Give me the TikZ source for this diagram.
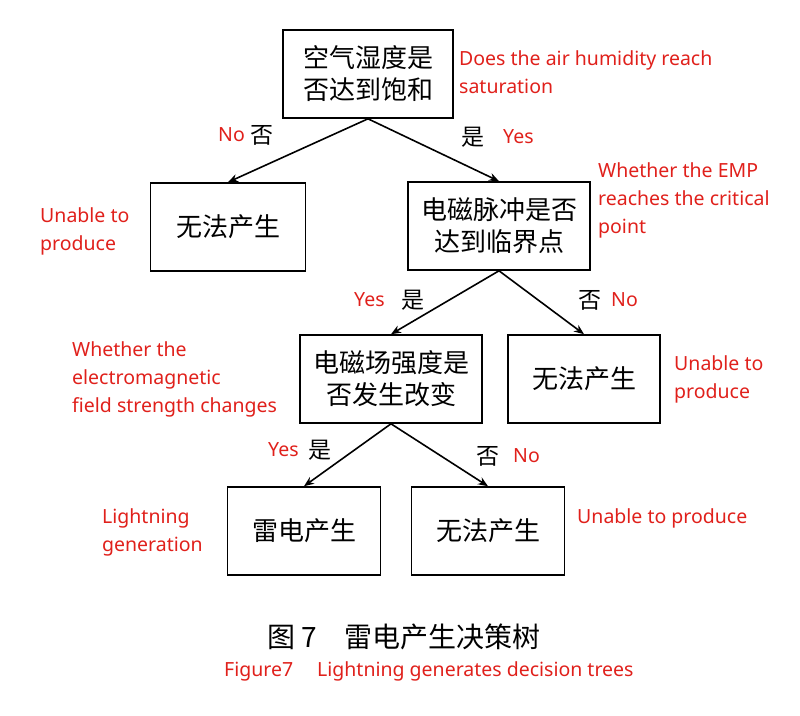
\documentclass[tikz,border=0pt]{standalone}
\usepackage{fontspec}
\setmainfont{Noto Sans}
\newfontfamily\cjk{Noto Sans CJK SC}
\usetikzlibrary{arrows.meta}
\definecolor{lab}{RGB}{224,32,27}
\begin{document}
\begin{tikzpicture}[x=1pt,y=-1pt,
 box/.style={draw,line width=1.6pt,minimum width=#1,minimum height=88pt,inner sep=0pt,align=center,font=\cjk\fontsize{26}{32}\selectfont},
 box/.default=155pt,
 arr/.style={line width=1.6pt,-{Stealth[length=10pt,width=8pt]}},
 red/.style={text=lab,font=\fontsize{19.5}{28}\selectfont,align=left,anchor=west,inner sep=0pt},
 zh/.style={font=\cjk\fontsize{23}{24}\selectfont,inner sep=0pt}]
\useasboundingbox (0,0) rectangle (800,715);
\node[box=170pt] (r) at (368,74) {空气湿度是\\否达到饱和};
\node[box] (a) at (228,227) {无法产生};
\node[box=182pt] (b) at (499,226) {电磁脉冲是否\\达到临界点};
\node[box=182pt] (c) at (391,379) {电磁场强度是\\否发生改变};
\node[box=152pt] (d) at (584,379) {无法产生};
\node[box=153pt] (e) at (304,531) {雷电产生};
\node[box=153pt] (f) at (488,531) {无法产生};
\draw[arr] (r.south) -- (a.north);
\draw[arr] (r.south) -- (b.north);
\draw[arr] (b.south) -- (c.north);
\draw[arr] (b.south) -- (d.north);
\draw[arr] (c.south) -- (e.north);
\draw[arr] (c.south) -- (f.north);
\node[zh] (z1) at (262,135) {否};
\node[zh] (z2) at (473,137) {是};
\node[zh] (z3) at (413,300) {是};
\node[zh] (z4) at (590,300) {否};
\node[zh] (z5) at (320,450) {是};
\node[zh] (z6) at (488,456) {否};
\node[red] (n1) at (218,135) {No};
\node[red] (n2) at (503,137) {Yes};
\node[red] (n3) at (354,300) {Yes};
\node[red] (n4) at (611,300) {No};
\node[red] (n5) at (268,450) {Yes};
\node[red] (n6) at (513,456) {No};
\node[red] (t1) at (459,72) {Does the air humidity reach\\saturation};
\node[red] (t2) at (598,200) {Whether the EMP\\reaches the critical\\point};
\node[red] (t3) at (40,231) {Unable to\\produce};
\node[red] (t4) at (72,379) {Whether the\\electromagnetic\\field strength changes};
\node[red] (t5) at (674,379) {Unable to\\produce};
\node[red] (t6) at (102,532) {Lightning\\generation};
\node[red] (t7) at (577,518) {Unable to produce};
\node[font=\cjk\fontsize{28}{30}\selectfont,inner sep=0pt] (cap) at (404,637) {图 7\quad 雷电产生决策树};
\node[red] (cap2) at (224,671) {Figure7\hspace{24pt}Lightning generates decision trees};
\end{tikzpicture}
\end{document}
